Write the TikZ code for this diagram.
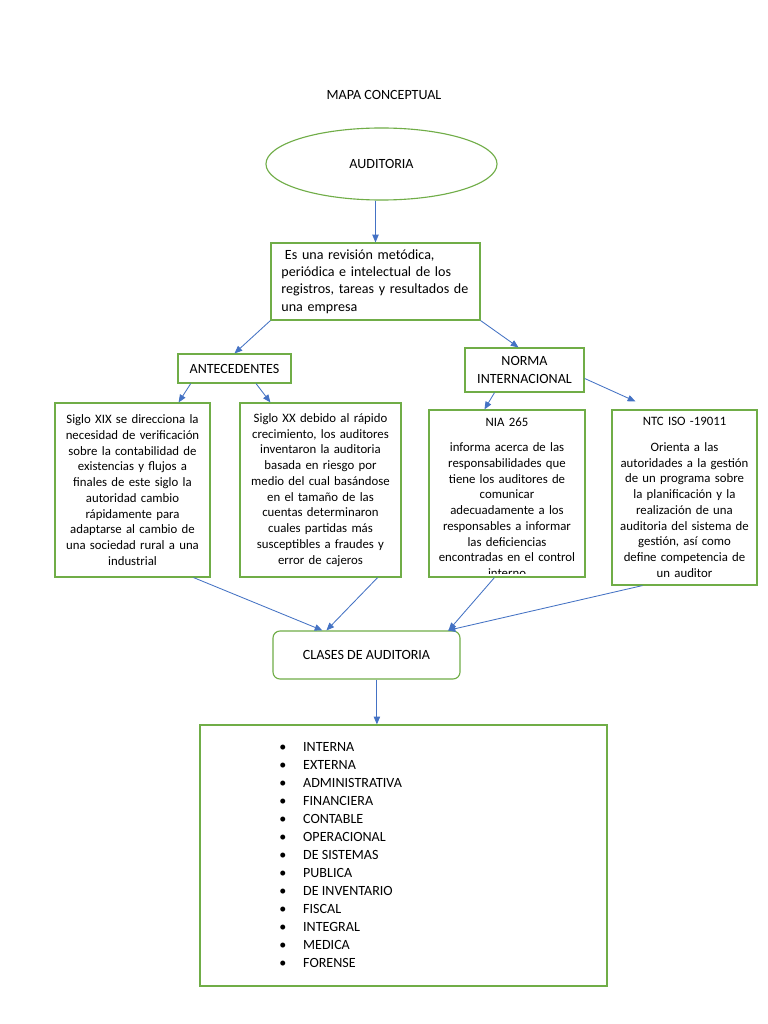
\documentclass[tikz,border=0pt]{standalone}
\usepackage{fontspec}
\setmainfont{Carlito}
\usetikzlibrary{shapes.geometric,arrows.meta}
\definecolor{verde}{HTML}{70AD47}
\definecolor{azul}{HTML}{4472C4}
\newcommand{\letrachica}{\fontsize{9.1}{11.2}\selectfont}
\newcommand{\letra}{\fontsize{10}{12.3}\selectfont}
\tikzset{
  caja/.style={draw=verde, line width=0.8pt, align=center, inner sep=0pt},
  flecha/.style={draw=azul, line width=0.6pt, -{Triangle[length=5.5pt,width=4.5pt]}},
}
\begin{document}
\begin{tikzpicture}[x=0.025cm, y=-0.025cm]
\useasboundingbox (0,0) rectangle (768,1024);
\fill[white] (0,0) rectangle (768,1024);
\node[font=\letra] (P_titulo) at (384,95) {MAPA CONCEPTUAL};
\node[caja, ellipse, minimum width=5.775cm, minimum height=1.8cm, font=\letra] (P_0_0) at (381.5,164) {AUDITORIA};
\node[caja, align=left, text width=4.7cm, minimum width=5.225cm, minimum height=1.925cm, font=\letra] (P_1_0) at (375.5,281.5) {\hspace{2.5pt}Es una revisión metódica,\\periódica e intelectual de los\\registros, tareas y resultados de\\una empresa};
\draw[flecha] (P_0_0.south -| P_1_0.north) -- (P_1_0.north);
\node[caja, minimum width=2.825cm, minimum height=0.725cm, font=\letra] (P_2_0) at (234.5,368.5) {ANTECEDENTES};
\draw[flecha] (P_1_0.south west) -- (P_2_0.north);
\node[caja, minimum width=2.975cm, minimum height=1.1cm, font=\letra] (P_2_1) at (524.5,370) {NORMA\\INTERNACIONAL};
\draw[flecha] (P_1_0.south east) -- ([xshift=-0.15cm]P_2_1.north);
\node[caja, text width=3.7cm, minimum width=3.875cm, minimum height=4.35cm, font=\letrachica] (P_3_0) at (132.5,490) {Siglo XIX se direcciona la\\necesidad de verificación\\sobre la contabilidad de\\existencias y flujos a\\finales de este siglo la\\autoridad cambio\\rápidamente para\\adaptarse al cambio de\\una sociedad rural a una\\industrial};
\draw[flecha] (P_2_0.-161) -- ([xshift=-0.8cm]P_3_0.north east);
\node[caja, text width=3.85cm, minimum width=4.025cm, minimum height=4.35cm, font=\letrachica] (P_3_1) at (320.5,490) {Siglo XX debido al rápido\\crecimiento, los auditores\\inventaron la auditoria\\basada en riesgo por\\medio del cual basándose\\en el tamaño de las\\cuentas determinaron\\cuales partidas más\\susceptibles a fraudes y\\error de cajeros};
\draw[flecha] (P_2_0.-35) -- ([xshift=0.775cm]P_3_1.north west);
\node[caja, minimum width=3.9cm, minimum height=4.175cm] (P_3_2) at (507,493.5) {};
\begin{scope}
\clip ([yshift=0.1cm]P_3_2.south west) rectangle (P_3_2.north east);
\node[align=center, inner sep=0pt, text width=3.75cm, anchor=north, font=\letrachica] (P_3_2_texto) at ([yshift=-5.5pt]P_3_2.north) {NIA 265\\[7pt]informa acerca de las\\responsabilidades que\\tiene los auditores de\\comunicar\\adecuadamente a los\\responsables a informar\\las deficiencias\\encontradas en el control\\interno};
\end{scope}
\draw[flecha] (P_2_1.-143) -- ([xshift=1.4cm]P_3_2.north west);
\node[caja, minimum width=3.625cm, minimum height=4.375cm] (P_3_3) at (684.5,497.5) {};
\node[align=center, inner sep=0pt, text width=3.5cm, anchor=north, font=\letrachica] (P_3_3_texto) at ([yshift=-5.5pt]P_3_3.north) {NTC ISO -19011\\[7pt]Orienta a las\\autoridades a la gestión\\de un programa sobre\\la planificación y la\\realización de una\\auditoria del sistema de\\gestión, así como\\define competencia de\\un auditor};
\draw[flecha] (P_2_1.-8) -- ([xshift=0.6cm,yshift=0.2cm]P_3_3.north west);
\node[caja, rounded corners=5pt, minimum width=4.675cm, minimum height=1.2cm, font=\letra] (P_4_0) at (366.5,655) {CLASES DE AUDITORIA};
\draw[flecha] ([xshift=-0.425cm]P_3_0.south east) -- ([xshift=1.25cm]P_4_0.north west);
\draw[flecha] ([xshift=-0.6cm]P_3_1.south east) -- ([xshift=1.35cm]P_4_0.north west);
\draw[flecha] ([xshift=1.65cm]P_3_2.south west) -- ([xshift=-0.3cm]P_4_0.north east);
\draw[flecha] ([xshift=0.775cm]P_3_3.south west) -- ([xshift=-0.325cm]P_4_0.north east);
\node[caja, minimum width=10.175cm, minimum height=6.525cm] (P_5_0) at (403.5,855.5) {};
\draw[flecha] ([xshift=0.26cm]P_4_0.south) -- ([xshift=0.26cm]P_4_0.south |- P_5_0.north);
\node[anchor=north west, align=left, inner sep=0pt, font=\fontsize{10}{12.76}\selectfont] (P_5_1) at (279,742.5) {\makebox[17pt][l]{\textbullet}INTERNA\\\makebox[17pt][l]{\textbullet}EXTERNA\\\makebox[17pt][l]{\textbullet}ADMINISTRATIVA\\\makebox[17pt][l]{\textbullet}FINANCIERA\\\makebox[17pt][l]{\textbullet}CONTABLE\\\makebox[17pt][l]{\textbullet}OPERACIONAL\\\makebox[17pt][l]{\textbullet}DE SISTEMAS\\\makebox[17pt][l]{\textbullet}PUBLICA\\\makebox[17pt][l]{\textbullet}DE INVENTARIO\\\makebox[17pt][l]{\textbullet}FISCAL\\\makebox[17pt][l]{\textbullet}INTEGRAL\\\makebox[17pt][l]{\textbullet}MEDICA\\\makebox[17pt][l]{\textbullet}FORENSE};
\end{tikzpicture}
\end{document}
